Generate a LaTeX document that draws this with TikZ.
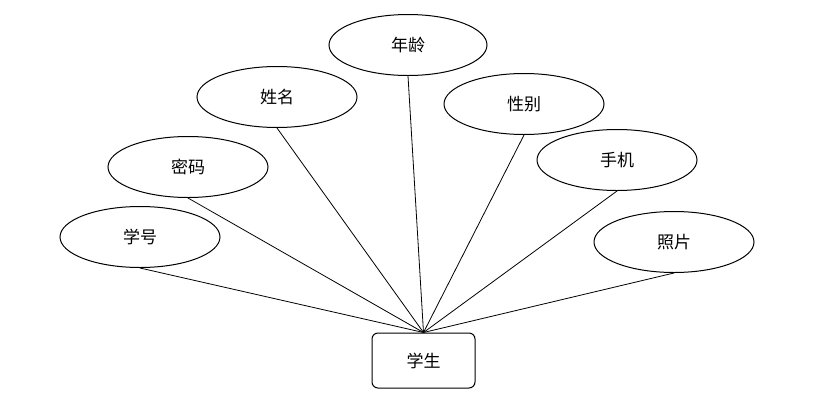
\documentclass[tikz,border=0pt]{standalone}
\usepackage{fontspec}
\newfontfamily\cjk{Noto Sans CJK SC}
\usetikzlibrary{shapes.geometric}
\begin{document}
\begin{tikzpicture}[x=1pt,y=-1pt,
  attr/.style={ellipse,draw,line width=1pt,minimum width=160pt,minimum height=61pt,inner sep=0pt,font=\cjk\fontsize{17}{20}\selectfont},
  ent/.style={draw,line width=1pt,rounded corners=6pt,minimum width=103pt,minimum height=55pt,font=\cjk\fontsize{17}{20}\selectfont},
  link/.style={line width=0.8pt}]
\useasboundingbox (0,0) rectangle (814,405);
\node[attr] (xh) at (140,237) {学号};
\node[attr] (mm) at (188,167) {密码};
\node[attr] (xm) at (277,97) {姓名};
\node[attr,minimum width=158pt] (nl) at (408,45) {年龄};
\node[attr] (xb) at (524,104) {性别};
\node[attr] (sj) at (617,160) {手机};
\node[attr] (zp) at (674,242) {照片};
\node[ent] (xs) at (423.5,360.5) {学生};
\foreach \a in {xh,mm,xm,nl,xb,sj,zp} \draw[link] (\a.south) -- (xs.north);
\end{tikzpicture}
\end{document}
